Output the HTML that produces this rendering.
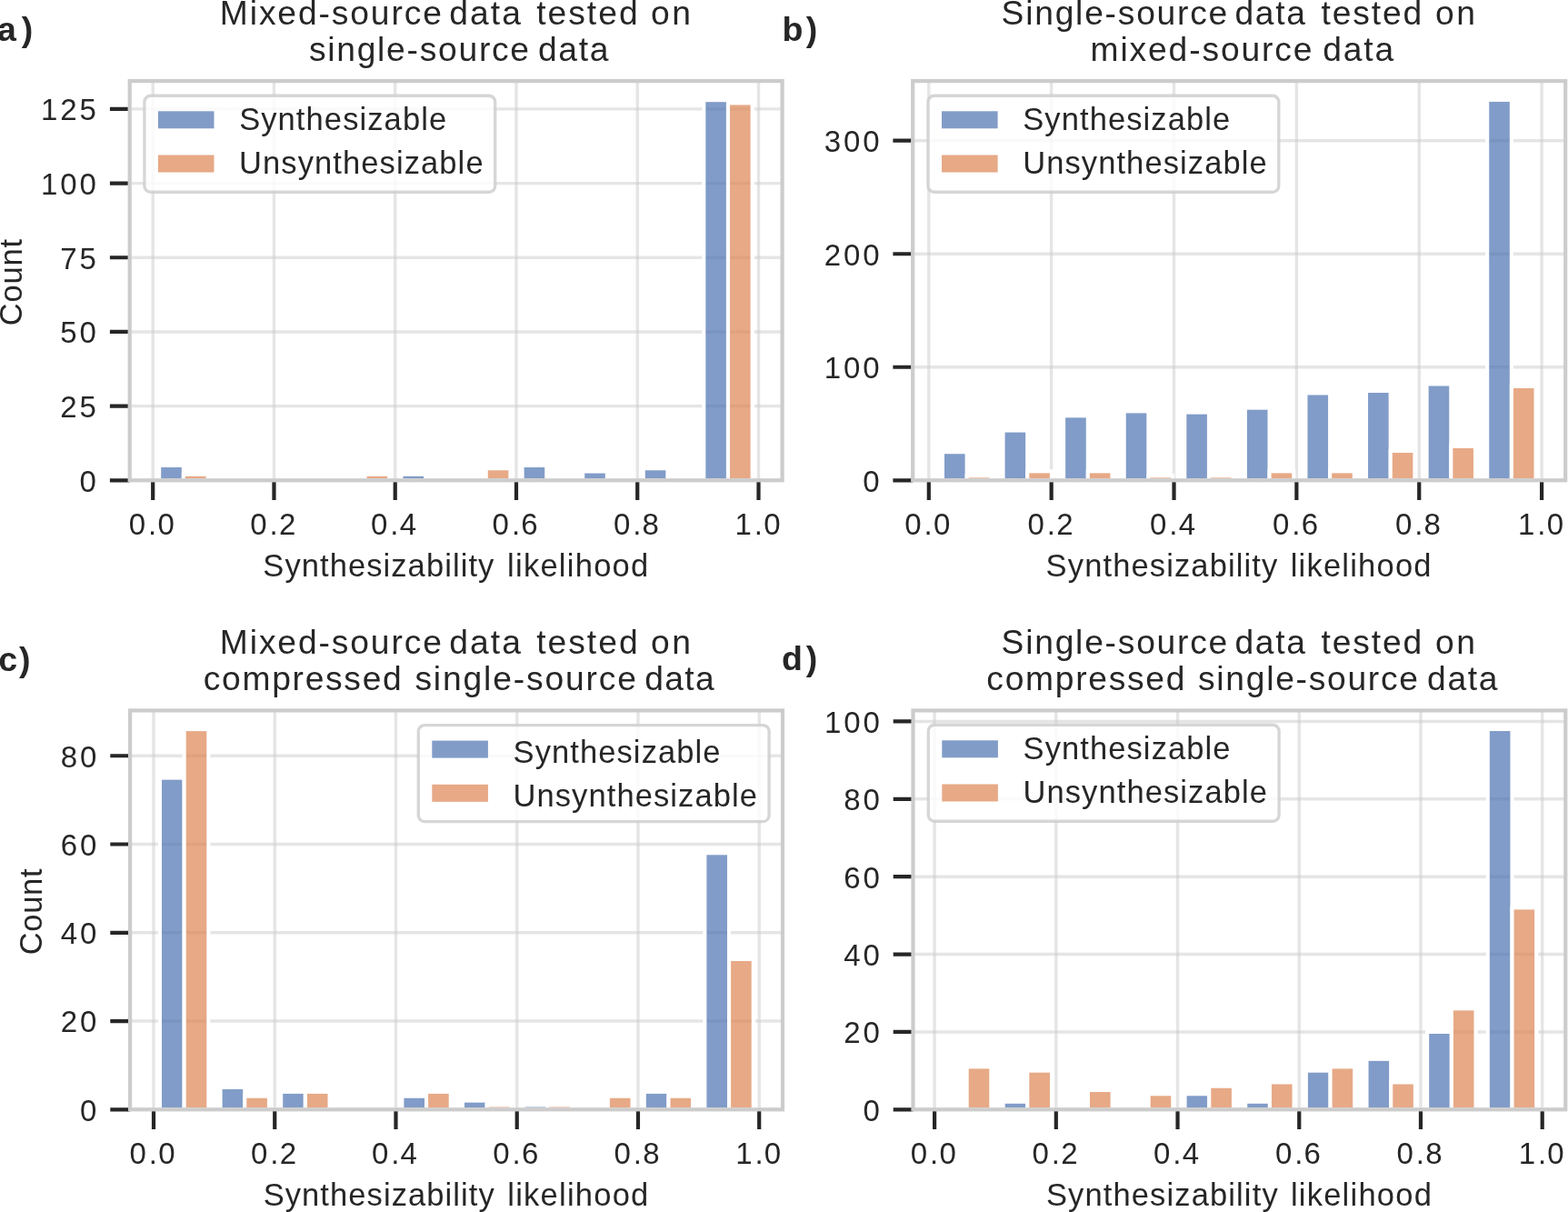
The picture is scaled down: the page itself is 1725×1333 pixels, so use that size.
<!DOCTYPE html><html><head><meta charset="utf-8"><title>Synthesizability likelihood histograms</title><style>html,body{margin:0;padding:0;background:#fff;}svg{display:block;}text{font-family:"Liberation Sans", Arial, Helvetica, sans-serif;fill:#262626;font-kerning:none;font-variant-ligatures:none;}</style></head><body>
<svg width="1725" height="1333" viewBox="0 0 1725 1333">
<rect width="1725" height="1333" fill="#fff"/>
<g>
<path d="M168.2 89.1V528.3" stroke="#cccccc" stroke-opacity="0.5" stroke-width="3.4" fill="none"/>
<path d="M301.46 89.1V528.3" stroke="#cccccc" stroke-opacity="0.5" stroke-width="3.4" fill="none"/>
<path d="M434.72 89.1V528.3" stroke="#cccccc" stroke-opacity="0.5" stroke-width="3.4" fill="none"/>
<path d="M567.98 89.1V528.3" stroke="#cccccc" stroke-opacity="0.5" stroke-width="3.4" fill="none"/>
<path d="M701.24 89.1V528.3" stroke="#cccccc" stroke-opacity="0.5" stroke-width="3.4" fill="none"/>
<path d="M834.5 89.1V528.3" stroke="#cccccc" stroke-opacity="0.5" stroke-width="3.4" fill="none"/>
<path d="M142.7 528.3H860.6" stroke="#cccccc" stroke-opacity="0.5" stroke-width="3.4" fill="none"/>
<path d="M142.7 446.62H860.6" stroke="#cccccc" stroke-opacity="0.5" stroke-width="3.4" fill="none"/>
<path d="M142.7 364.95H860.6" stroke="#cccccc" stroke-opacity="0.5" stroke-width="3.4" fill="none"/>
<path d="M142.7 283.27H860.6" stroke="#cccccc" stroke-opacity="0.5" stroke-width="3.4" fill="none"/>
<path d="M142.7 201.6H860.6" stroke="#cccccc" stroke-opacity="0.5" stroke-width="3.4" fill="none"/>
<path d="M142.7 119.92H860.6" stroke="#cccccc" stroke-opacity="0.5" stroke-width="3.4" fill="none"/>
<rect x="175.15" y="511.96" width="26.7" height="16.33" fill="#4c72b0" fill-opacity="0.7" stroke="#fff" stroke-width="4.1"/>
<rect x="201.85" y="521.77" width="26.7" height="6.53" fill="#dd8452" fill-opacity="0.7" stroke="#fff" stroke-width="4.1"/>
<rect x="401.56" y="521.77" width="26.7" height="6.53" fill="#dd8452" fill-opacity="0.7" stroke="#fff" stroke-width="4.1"/>
<rect x="441.43" y="521.77" width="26.7" height="6.53" fill="#4c72b0" fill-opacity="0.7" stroke="#fff" stroke-width="4.1"/>
<rect x="534.7" y="515.23" width="26.7" height="13.07" fill="#dd8452" fill-opacity="0.7" stroke="#fff" stroke-width="4.1"/>
<rect x="574.57" y="511.96" width="26.7" height="16.33" fill="#4c72b0" fill-opacity="0.7" stroke="#fff" stroke-width="4.1"/>
<rect x="641.14" y="518.5" width="26.7" height="9.8" fill="#4c72b0" fill-opacity="0.7" stroke="#fff" stroke-width="4.1"/>
<rect x="707.71" y="515.23" width="26.7" height="13.07" fill="#4c72b0" fill-opacity="0.7" stroke="#fff" stroke-width="4.1"/>
<rect x="774.28" y="110.12" width="26.7" height="418.18" fill="#4c72b0" fill-opacity="0.7" stroke="#fff" stroke-width="4.1"/>
<rect x="800.98" y="113.39" width="26.7" height="414.91" fill="#dd8452" fill-opacity="0.7" stroke="#fff" stroke-width="4.1"/>
<path d="M168.2 528.3V550.1M301.46 528.3V550.1M434.72 528.3V550.1M567.98 528.3V550.1M701.24 528.3V550.1M834.5 528.3V550.1M120.9 528.3H142.7M120.9 446.62H142.7M120.9 364.95H142.7M120.9 283.27H142.7M120.9 201.6H142.7M120.9 119.92H142.7" stroke="#262626" stroke-width="4.2" fill="none"/>
<rect x="142.7" y="89.1" width="717.9" height="439.2" fill="none" stroke="#cccccc" stroke-width="4.2"/>
<rect x="158.9" y="105.25" width="385.8" height="106" rx="6.8" ry="6.8" fill="#fff" fill-opacity="0.8" stroke="#cccccc" stroke-opacity="0.8" stroke-width="3.3"/>
<rect x="173.9" y="122.3" width="61.6" height="19" fill="#829cc8"/>
<rect x="173.9" y="170.5" width="61.6" height="19" fill="#e7a986"/>
<text x="263.13" y="143.45" font-size="34.5" letter-spacing="1.1">Synthesizable</text>
<text x="263.04" y="191.45" font-size="34.5" letter-spacing="1.1">Unsynthesizable</text>
<text x="141.76 163.02 173.48" y="587.6" font-size="33">0.0</text>
<text x="275.21 296.46 306.93" y="587.6" font-size="33">0.2</text>
<text x="408.12 429.37 439.84" y="587.6" font-size="33">0.4</text>
<text x="541.62 562.88 573.34" y="587.6" font-size="33">0.6</text>
<text x="674.88 696.13 706.6" y="587.6" font-size="33">0.8</text>
<text x="808.45 829.7 840.17" y="587.6" font-size="33">1.0</text>
<text x="87.44" y="540.7" font-size="33">0</text>
<text x="66.28 87.53" y="459.02" font-size="33">25</text>
<text x="66.18 87.44" y="377.35" font-size="33">50</text>
<text x="66.28 87.53" y="295.67" font-size="33">75</text>
<text x="44.93 66.18 87.44" y="214" font-size="33">100</text>
<text x="45.03 66.28 87.53" y="132.32" font-size="33">125</text>
<text x="289.34" y="633.8" font-size="34.5" letter-spacing="1.08">Synthesizability</text>
<text x="558.06" y="633.8" font-size="34.5" letter-spacing="1.26">likelihood</text>
<text transform="translate(24.3 358.34) rotate(-90)" font-size="34.5" letter-spacing="0.81">Count</text>
<text x="241.87" y="26.9" font-size="37.2" letter-spacing="1.89">Mixed-source</text>
<text x="494.21" y="26.9" font-size="37.2" letter-spacing="2.1">data</text>
<text x="590.19" y="26.9" font-size="37.2" letter-spacing="2.02">tested</text>
<text x="715.96" y="26.9" font-size="37.2" letter-spacing="2.55">on</text>
<text x="339.88" y="67.4" font-size="37.2" letter-spacing="1.75">single-source</text>
<text x="591.99" y="67.4" font-size="37.2" letter-spacing="1.65">data</text>
<text x="-3.09" y="45.4" font-size="37.5" letter-spacing="6" font-weight="bold">a)</text>
</g>
<g>
<path d="M1021.8 89.1V528.3" stroke="#cccccc" stroke-opacity="0.5" stroke-width="3.4" fill="none"/>
<path d="M1156.66 89.1V528.3" stroke="#cccccc" stroke-opacity="0.5" stroke-width="3.4" fill="none"/>
<path d="M1291.52 89.1V528.3" stroke="#cccccc" stroke-opacity="0.5" stroke-width="3.4" fill="none"/>
<path d="M1426.38 89.1V528.3" stroke="#cccccc" stroke-opacity="0.5" stroke-width="3.4" fill="none"/>
<path d="M1561.24 89.1V528.3" stroke="#cccccc" stroke-opacity="0.5" stroke-width="3.4" fill="none"/>
<path d="M1696.1 89.1V528.3" stroke="#cccccc" stroke-opacity="0.5" stroke-width="3.4" fill="none"/>
<path d="M1004.2 528.3H1722.2" stroke="#cccccc" stroke-opacity="0.5" stroke-width="3.4" fill="none"/>
<path d="M1004.2 403.77H1722.2" stroke="#cccccc" stroke-opacity="0.5" stroke-width="3.4" fill="none"/>
<path d="M1004.2 279.24H1722.2" stroke="#cccccc" stroke-opacity="0.5" stroke-width="3.4" fill="none"/>
<path d="M1004.2 154.71H1722.2" stroke="#cccccc" stroke-opacity="0.5" stroke-width="3.4" fill="none"/>
<rect x="1036.95" y="497.17" width="26.7" height="31.13" fill="#4c72b0" fill-opacity="0.7" stroke="#fff" stroke-width="4.1"/>
<rect x="1063.65" y="523.32" width="26.7" height="4.98" fill="#dd8452" fill-opacity="0.7" stroke="#fff" stroke-width="4.1"/>
<rect x="1103.53" y="473.51" width="26.7" height="54.79" fill="#4c72b0" fill-opacity="0.7" stroke="#fff" stroke-width="4.1"/>
<rect x="1130.23" y="518.34" width="26.7" height="9.96" fill="#dd8452" fill-opacity="0.7" stroke="#fff" stroke-width="4.1"/>
<rect x="1170.11" y="457.32" width="26.7" height="70.98" fill="#4c72b0" fill-opacity="0.7" stroke="#fff" stroke-width="4.1"/>
<rect x="1196.81" y="518.34" width="26.7" height="9.96" fill="#dd8452" fill-opacity="0.7" stroke="#fff" stroke-width="4.1"/>
<rect x="1236.69" y="452.34" width="26.7" height="75.96" fill="#4c72b0" fill-opacity="0.7" stroke="#fff" stroke-width="4.1"/>
<rect x="1263.39" y="523.32" width="26.7" height="4.98" fill="#dd8452" fill-opacity="0.7" stroke="#fff" stroke-width="4.1"/>
<rect x="1303.27" y="453.58" width="26.7" height="74.72" fill="#4c72b0" fill-opacity="0.7" stroke="#fff" stroke-width="4.1"/>
<rect x="1329.97" y="523.32" width="26.7" height="4.98" fill="#dd8452" fill-opacity="0.7" stroke="#fff" stroke-width="4.1"/>
<rect x="1369.85" y="448.6" width="26.7" height="79.7" fill="#4c72b0" fill-opacity="0.7" stroke="#fff" stroke-width="4.1"/>
<rect x="1396.55" y="518.34" width="26.7" height="9.96" fill="#dd8452" fill-opacity="0.7" stroke="#fff" stroke-width="4.1"/>
<rect x="1436.43" y="432.41" width="26.7" height="95.89" fill="#4c72b0" fill-opacity="0.7" stroke="#fff" stroke-width="4.1"/>
<rect x="1463.13" y="518.34" width="26.7" height="9.96" fill="#dd8452" fill-opacity="0.7" stroke="#fff" stroke-width="4.1"/>
<rect x="1503.01" y="429.92" width="26.7" height="98.38" fill="#4c72b0" fill-opacity="0.7" stroke="#fff" stroke-width="4.1"/>
<rect x="1529.71" y="495.92" width="26.7" height="32.38" fill="#dd8452" fill-opacity="0.7" stroke="#fff" stroke-width="4.1"/>
<rect x="1569.59" y="422.45" width="26.7" height="105.85" fill="#4c72b0" fill-opacity="0.7" stroke="#fff" stroke-width="4.1"/>
<rect x="1596.29" y="490.94" width="26.7" height="37.36" fill="#dd8452" fill-opacity="0.7" stroke="#fff" stroke-width="4.1"/>
<rect x="1636.17" y="109.88" width="26.7" height="418.42" fill="#4c72b0" fill-opacity="0.7" stroke="#fff" stroke-width="4.1"/>
<rect x="1662.87" y="424.94" width="26.7" height="103.36" fill="#dd8452" fill-opacity="0.7" stroke="#fff" stroke-width="4.1"/>
<path d="M1021.8 528.3V550.1M1156.66 528.3V550.1M1291.52 528.3V550.1M1426.38 528.3V550.1M1561.24 528.3V550.1M1696.1 528.3V550.1M982.4 528.3H1004.2M982.4 403.77H1004.2M982.4 279.24H1004.2M982.4 154.71H1004.2" stroke="#262626" stroke-width="4.2" fill="none"/>
<rect x="1004.2" y="89.1" width="718" height="439.2" fill="none" stroke="#cccccc" stroke-width="4.2"/>
<rect x="1021" y="105.25" width="385.8" height="106" rx="6.8" ry="6.8" fill="#fff" fill-opacity="0.8" stroke="#cccccc" stroke-opacity="0.8" stroke-width="3.3"/>
<rect x="1036" y="122.3" width="61.6" height="19" fill="#829cc8"/>
<rect x="1036" y="170.5" width="61.6" height="19" fill="#e7a986"/>
<text x="1125.23" y="143.45" font-size="34.5" letter-spacing="1.1">Synthesizable</text>
<text x="1125.14" y="191.45" font-size="34.5" letter-spacing="1.1">Unsynthesizable</text>
<text x="995.36 1016.62 1027.08" y="587.6" font-size="33">0.0</text>
<text x="1130.41 1151.66 1162.13" y="587.6" font-size="33">0.2</text>
<text x="1264.92 1286.17 1296.64" y="587.6" font-size="33">0.4</text>
<text x="1400.02 1421.28 1431.74" y="587.6" font-size="33">0.6</text>
<text x="1534.88 1556.13 1566.6" y="587.6" font-size="33">0.8</text>
<text x="1670.05 1691.3 1701.77" y="587.6" font-size="33">1.0</text>
<text x="949.34" y="540.7" font-size="33">0</text>
<text x="906.83 928.08 949.34" y="416.17" font-size="33">100</text>
<text x="906.83 928.08 949.34" y="291.64" font-size="33">200</text>
<text x="906.83 928.08 949.34" y="167.11" font-size="33">300</text>
<text x="1150.61" y="633.8" font-size="34.5" letter-spacing="1.13">Synthesizability</text>
<text x="1419.64" y="633.8" font-size="34.5" letter-spacing="1.23">likelihood</text>
<text x="1101.56" y="26.9" font-size="37.2" letter-spacing="1.78">Single-source</text>
<text x="1358.41" y="26.9" font-size="37.2" letter-spacing="1.71">data</text>
<text x="1453.52" y="26.9" font-size="37.2" letter-spacing="1.87">tested</text>
<text x="1579.11" y="26.9" font-size="37.2" letter-spacing="2.35">on</text>
<text x="1199.56" y="67.4" font-size="37.2" letter-spacing="1.89">mixed-source</text>
<text x="1455.24" y="67.4" font-size="37.2" letter-spacing="1.82">data</text>
<text x="860.53" y="45.2" font-size="37.5" letter-spacing="3.43" font-weight="bold">b)</text>
</g>
<g>
<path d="M169 781.4V1220.3" stroke="#cccccc" stroke-opacity="0.5" stroke-width="3.4" fill="none"/>
<path d="M302.24 781.4V1220.3" stroke="#cccccc" stroke-opacity="0.5" stroke-width="3.4" fill="none"/>
<path d="M435.48 781.4V1220.3" stroke="#cccccc" stroke-opacity="0.5" stroke-width="3.4" fill="none"/>
<path d="M568.72 781.4V1220.3" stroke="#cccccc" stroke-opacity="0.5" stroke-width="3.4" fill="none"/>
<path d="M701.96 781.4V1220.3" stroke="#cccccc" stroke-opacity="0.5" stroke-width="3.4" fill="none"/>
<path d="M835.2 781.4V1220.3" stroke="#cccccc" stroke-opacity="0.5" stroke-width="3.4" fill="none"/>
<path d="M143.1 1220.3H861" stroke="#cccccc" stroke-opacity="0.5" stroke-width="3.4" fill="none"/>
<path d="M143.1 1123.04H861" stroke="#cccccc" stroke-opacity="0.5" stroke-width="3.4" fill="none"/>
<path d="M143.1 1025.78H861" stroke="#cccccc" stroke-opacity="0.5" stroke-width="3.4" fill="none"/>
<path d="M143.1 928.52H861" stroke="#cccccc" stroke-opacity="0.5" stroke-width="3.4" fill="none"/>
<path d="M143.1 831.26H861" stroke="#cccccc" stroke-opacity="0.5" stroke-width="3.4" fill="none"/>
<rect x="175.95" y="855.57" width="26.7" height="364.73" fill="#4c72b0" fill-opacity="0.7" stroke="#fff" stroke-width="4.1"/>
<rect x="202.65" y="802.08" width="26.7" height="418.22" fill="#dd8452" fill-opacity="0.7" stroke="#fff" stroke-width="4.1"/>
<rect x="242.55" y="1195.98" width="26.7" height="24.32" fill="#4c72b0" fill-opacity="0.7" stroke="#fff" stroke-width="4.1"/>
<rect x="269.25" y="1205.71" width="26.7" height="14.59" fill="#dd8452" fill-opacity="0.7" stroke="#fff" stroke-width="4.1"/>
<rect x="309.15" y="1200.85" width="26.7" height="19.45" fill="#4c72b0" fill-opacity="0.7" stroke="#fff" stroke-width="4.1"/>
<rect x="335.85" y="1200.85" width="26.7" height="19.45" fill="#dd8452" fill-opacity="0.7" stroke="#fff" stroke-width="4.1"/>
<rect x="442.35" y="1205.71" width="26.7" height="14.59" fill="#4c72b0" fill-opacity="0.7" stroke="#fff" stroke-width="4.1"/>
<rect x="469.05" y="1200.85" width="26.7" height="19.45" fill="#dd8452" fill-opacity="0.7" stroke="#fff" stroke-width="4.1"/>
<rect x="508.95" y="1210.57" width="26.7" height="9.73" fill="#4c72b0" fill-opacity="0.7" stroke="#fff" stroke-width="4.1"/>
<rect x="535.65" y="1215.44" width="26.7" height="4.86" fill="#dd8452" fill-opacity="0.7" stroke="#fff" stroke-width="4.1"/>
<rect x="575.55" y="1215.44" width="26.7" height="4.86" fill="#4c72b0" fill-opacity="0.7" stroke="#fff" stroke-width="4.1"/>
<rect x="602.25" y="1215.44" width="26.7" height="4.86" fill="#dd8452" fill-opacity="0.7" stroke="#fff" stroke-width="4.1"/>
<rect x="668.85" y="1205.71" width="26.7" height="14.59" fill="#dd8452" fill-opacity="0.7" stroke="#fff" stroke-width="4.1"/>
<rect x="708.75" y="1200.85" width="26.7" height="19.45" fill="#4c72b0" fill-opacity="0.7" stroke="#fff" stroke-width="4.1"/>
<rect x="735.45" y="1205.71" width="26.7" height="14.59" fill="#dd8452" fill-opacity="0.7" stroke="#fff" stroke-width="4.1"/>
<rect x="775.35" y="938.25" width="26.7" height="282.05" fill="#4c72b0" fill-opacity="0.7" stroke="#fff" stroke-width="4.1"/>
<rect x="802.05" y="1054.96" width="26.7" height="165.34" fill="#dd8452" fill-opacity="0.7" stroke="#fff" stroke-width="4.1"/>
<path d="M169 1220.3V1242.1M302.24 1220.3V1242.1M435.48 1220.3V1242.1M568.72 1220.3V1242.1M701.96 1220.3V1242.1M835.2 1220.3V1242.1M121.3 1220.3H143.1M121.3 1123.04H143.1M121.3 1025.78H143.1M121.3 928.52H143.1M121.3 831.26H143.1" stroke="#262626" stroke-width="4.2" fill="none"/>
<rect x="143.1" y="781.4" width="717.9" height="438.9" fill="none" stroke="#cccccc" stroke-width="4.2"/>
<rect x="460.3" y="797.55" width="385.8" height="106" rx="6.8" ry="6.8" fill="#fff" fill-opacity="0.8" stroke="#cccccc" stroke-opacity="0.8" stroke-width="3.3"/>
<rect x="475.3" y="814.6" width="61.6" height="19" fill="#829cc8"/>
<rect x="475.3" y="862.8" width="61.6" height="19" fill="#e7a986"/>
<text x="564.53" y="839.05" font-size="34.5" letter-spacing="1.1">Synthesizable</text>
<text x="564.44" y="887.05" font-size="34.5" letter-spacing="1.1">Unsynthesizable</text>
<text x="142.56 163.82 174.28" y="1279.6" font-size="33">0.0</text>
<text x="275.99 297.24 307.71" y="1279.6" font-size="33">0.2</text>
<text x="408.88 430.13 440.6" y="1279.6" font-size="33">0.4</text>
<text x="542.36 563.62 574.08" y="1279.6" font-size="33">0.6</text>
<text x="675.6 696.85 707.32" y="1279.6" font-size="33">0.8</text>
<text x="809.15 830.4 840.87" y="1279.6" font-size="33">1.0</text>
<text x="87.94" y="1232.7" font-size="33">0</text>
<text x="66.68 87.94" y="1135.44" font-size="33">20</text>
<text x="66.68 87.94" y="1038.18" font-size="33">40</text>
<text x="66.68 87.94" y="940.92" font-size="33">60</text>
<text x="66.68 87.94" y="843.66" font-size="33">80</text>
<text x="289.65" y="1325.6" font-size="34.5" letter-spacing="1.09">Synthesizability</text>
<text x="558.34" y="1325.6" font-size="34.5" letter-spacing="1.23">likelihood</text>
<text transform="translate(45.9 1050.29) rotate(-90)" font-size="34.5" letter-spacing="0.68">Count</text>
<text x="241.87" y="718.9" font-size="37.2" letter-spacing="1.89">Mixed-source</text>
<text x="494.21" y="718.9" font-size="37.2" letter-spacing="2.1">data</text>
<text x="590.19" y="718.9" font-size="37.2" letter-spacing="2.02">tested</text>
<text x="715.96" y="718.9" font-size="37.2" letter-spacing="2.55">on</text>
<text x="223.73" y="759.4" font-size="37.2" letter-spacing="1.72">compressed</text>
<text x="456.4" y="759.4" font-size="37.2" letter-spacing="1.86">single-source</text>
<text x="709.31" y="759.4" font-size="37.2" letter-spacing="1.34">data</text>
<text x="-1.76" y="737.9" font-size="37.5" letter-spacing="1.86" font-weight="bold">c)</text>
</g>
<g>
<path d="M1028.1 781.4V1220.3" stroke="#cccccc" stroke-opacity="0.5" stroke-width="3.4" fill="none"/>
<path d="M1161.82 781.4V1220.3" stroke="#cccccc" stroke-opacity="0.5" stroke-width="3.4" fill="none"/>
<path d="M1295.54 781.4V1220.3" stroke="#cccccc" stroke-opacity="0.5" stroke-width="3.4" fill="none"/>
<path d="M1429.26 781.4V1220.3" stroke="#cccccc" stroke-opacity="0.5" stroke-width="3.4" fill="none"/>
<path d="M1562.98 781.4V1220.3" stroke="#cccccc" stroke-opacity="0.5" stroke-width="3.4" fill="none"/>
<path d="M1696.7 781.4V1220.3" stroke="#cccccc" stroke-opacity="0.5" stroke-width="3.4" fill="none"/>
<path d="M1004.5 1220.3H1722.3" stroke="#cccccc" stroke-opacity="0.5" stroke-width="3.4" fill="none"/>
<path d="M1004.5 1134.93H1722.3" stroke="#cccccc" stroke-opacity="0.5" stroke-width="3.4" fill="none"/>
<path d="M1004.5 1049.56H1722.3" stroke="#cccccc" stroke-opacity="0.5" stroke-width="3.4" fill="none"/>
<path d="M1004.5 964.19H1722.3" stroke="#cccccc" stroke-opacity="0.5" stroke-width="3.4" fill="none"/>
<path d="M1004.5 878.82H1722.3" stroke="#cccccc" stroke-opacity="0.5" stroke-width="3.4" fill="none"/>
<path d="M1004.5 793.45H1722.3" stroke="#cccccc" stroke-opacity="0.5" stroke-width="3.4" fill="none"/>
<rect x="1063.65" y="1173.35" width="26.7" height="46.95" fill="#dd8452" fill-opacity="0.7" stroke="#fff" stroke-width="4.1"/>
<rect x="1103.6" y="1211.76" width="26.7" height="8.54" fill="#4c72b0" fill-opacity="0.7" stroke="#fff" stroke-width="4.1"/>
<rect x="1130.3" y="1177.62" width="26.7" height="42.68" fill="#dd8452" fill-opacity="0.7" stroke="#fff" stroke-width="4.1"/>
<rect x="1196.95" y="1198.96" width="26.7" height="21.34" fill="#dd8452" fill-opacity="0.7" stroke="#fff" stroke-width="4.1"/>
<rect x="1263.6" y="1203.23" width="26.7" height="17.07" fill="#dd8452" fill-opacity="0.7" stroke="#fff" stroke-width="4.1"/>
<rect x="1303.55" y="1203.23" width="26.7" height="17.07" fill="#4c72b0" fill-opacity="0.7" stroke="#fff" stroke-width="4.1"/>
<rect x="1330.25" y="1194.69" width="26.7" height="25.61" fill="#dd8452" fill-opacity="0.7" stroke="#fff" stroke-width="4.1"/>
<rect x="1370.2" y="1211.76" width="26.7" height="8.54" fill="#4c72b0" fill-opacity="0.7" stroke="#fff" stroke-width="4.1"/>
<rect x="1396.9" y="1190.42" width="26.7" height="29.88" fill="#dd8452" fill-opacity="0.7" stroke="#fff" stroke-width="4.1"/>
<rect x="1436.85" y="1177.62" width="26.7" height="42.68" fill="#4c72b0" fill-opacity="0.7" stroke="#fff" stroke-width="4.1"/>
<rect x="1463.55" y="1173.35" width="26.7" height="46.95" fill="#dd8452" fill-opacity="0.7" stroke="#fff" stroke-width="4.1"/>
<rect x="1503.5" y="1164.81" width="26.7" height="55.49" fill="#4c72b0" fill-opacity="0.7" stroke="#fff" stroke-width="4.1"/>
<rect x="1530.2" y="1190.42" width="26.7" height="29.88" fill="#dd8452" fill-opacity="0.7" stroke="#fff" stroke-width="4.1"/>
<rect x="1570.15" y="1134.93" width="26.7" height="85.37" fill="#4c72b0" fill-opacity="0.7" stroke="#fff" stroke-width="4.1"/>
<rect x="1596.85" y="1109.32" width="26.7" height="110.98" fill="#dd8452" fill-opacity="0.7" stroke="#fff" stroke-width="4.1"/>
<rect x="1636.8" y="801.99" width="26.7" height="418.31" fill="#4c72b0" fill-opacity="0.7" stroke="#fff" stroke-width="4.1"/>
<rect x="1663.5" y="998.34" width="26.7" height="221.96" fill="#dd8452" fill-opacity="0.7" stroke="#fff" stroke-width="4.1"/>
<path d="M1028.1 1220.3V1242.1M1161.82 1220.3V1242.1M1295.54 1220.3V1242.1M1429.26 1220.3V1242.1M1562.98 1220.3V1242.1M1696.7 1220.3V1242.1M982.7 1220.3H1004.5M982.7 1134.93H1004.5M982.7 1049.56H1004.5M982.7 964.19H1004.5M982.7 878.82H1004.5M982.7 793.45H1004.5" stroke="#262626" stroke-width="4.2" fill="none"/>
<rect x="1004.5" y="781.4" width="717.8" height="438.9" fill="none" stroke="#cccccc" stroke-width="4.2"/>
<rect x="1021.3" y="797.25" width="385.8" height="106" rx="6.8" ry="6.8" fill="#fff" fill-opacity="0.8" stroke="#cccccc" stroke-opacity="0.8" stroke-width="3.3"/>
<rect x="1036.3" y="814.3" width="61.6" height="19" fill="#829cc8"/>
<rect x="1036.3" y="862.5" width="61.6" height="19" fill="#e7a986"/>
<text x="1125.53" y="835.45" font-size="34.5" letter-spacing="1.1">Synthesizable</text>
<text x="1125.44" y="883.45" font-size="34.5" letter-spacing="1.1">Unsynthesizable</text>
<text x="1001.66 1022.92 1033.38" y="1279.6" font-size="33">0.0</text>
<text x="1135.57 1156.82 1167.29" y="1279.6" font-size="33">0.2</text>
<text x="1268.94 1290.19 1300.66" y="1279.6" font-size="33">0.4</text>
<text x="1402.9 1424.16 1434.62" y="1279.6" font-size="33">0.6</text>
<text x="1536.62 1557.87 1568.34" y="1279.6" font-size="33">0.8</text>
<text x="1670.65 1691.9 1702.37" y="1279.6" font-size="33">1.0</text>
<text x="949.54" y="1232.7" font-size="33">0</text>
<text x="928.28 949.54" y="1147.33" font-size="33">20</text>
<text x="928.28 949.54" y="1061.96" font-size="33">40</text>
<text x="928.28 949.54" y="976.59" font-size="33">60</text>
<text x="928.28 949.54" y="891.22" font-size="33">80</text>
<text x="907.03 928.28 949.54" y="805.85" font-size="33">100</text>
<text x="1150.91" y="1325.6" font-size="34.5" letter-spacing="1.13">Synthesizability</text>
<text x="1419.94" y="1325.6" font-size="34.5" letter-spacing="1.23">likelihood</text>
<text x="1101.56" y="718.9" font-size="37.2" letter-spacing="1.78">Single-source</text>
<text x="1358.41" y="718.9" font-size="37.2" letter-spacing="1.71">data</text>
<text x="1453.52" y="718.9" font-size="37.2" letter-spacing="1.87">tested</text>
<text x="1579.11" y="718.9" font-size="37.2" letter-spacing="2.35">on</text>
<text x="1085.34" y="759.4" font-size="37.2" letter-spacing="1.72">compressed</text>
<text x="1317.97" y="759.4" font-size="37.2" letter-spacing="1.74">single-source</text>
<text x="1570.08" y="759.4" font-size="37.2" letter-spacing="1.62">data</text>
<text x="859.97" y="737.1" font-size="37.5" letter-spacing="3.99" font-weight="bold">d)</text>
</g>
</svg></body></html>
